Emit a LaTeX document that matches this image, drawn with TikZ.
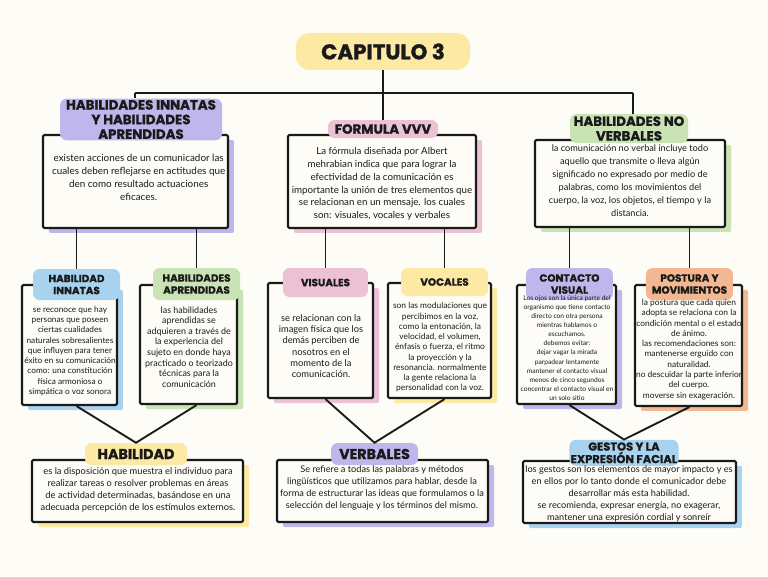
\documentclass[tikz,border=0pt]{standalone}
\usepackage{fontspec}
\usetikzlibrary{positioning,shadows}
\newfontfamily\headfont{Poppins}[BoldFeatures={FakeBold=1.2}]
\newfontfamily\bodyfont{Lato}
\definecolor{ink}{HTML}{1A1A1A}
\definecolor{paper}{HTML}{FDFCF6}
\definecolor{lil}{HTML}{BFB6EC}
\definecolor{pnk}{HTML}{EDC1D4}
\definecolor{grn}{HTML}{C9E3B5}
\definecolor{sky}{HTML}{A8D3EE}
\definecolor{ylw}{HTML}{FCEAA4}
\definecolor{org}{HTML}{F3B891}
\tikzset{
  wire/.style={line width=1.4pt,ink},
  panel/.style={draw=ink,line width=1.6pt,fill=paper,rounded corners=1pt,inner sep=0pt,
    general shadow={fill=#1,shadow xshift=4.5pt,shadow yshift=-3.75pt}},
  tag/.style={fill=#1,rounded corners=5pt,align=center,inner sep=1pt,text=ink,
    font=\headfont\bfseries\fontsize{10}{11}\selectfont},
  tagsm/.style={tag=#1,font=\headfont\bfseries\fontsize{7.8}{9}\selectfont},
  txt/.style 2 args={align=center,text=ink,inner sep=0pt,font=\bodyfont\fontsize{#1}{#2}\selectfont},
}

\begin{document}
\begin{tikzpicture}[x=1pt,y=-1pt]
\useasboundingbox[fill=paper] (0,0) rectangle (576,432);
% title
\node[tag=ylw,rounded corners=10pt,minimum width=130.5pt,minimum height=27.75pt,font=\headfont\bfseries\fontsize{16}{18}\selectfont] (cap) at (287.25,38.6) {CAPITULO 3};
\coordinate (jl) at (101.25,69.75);
\coordinate (jr) at (474.75,69.75);
% top panels
\node[panel=lil,minimum width=138.75pt,minimum height=69.75pt] (t1) at (101.6,136.1) {};
\node[panel=pnk,minimum width=141pt,minimum height=69.75pt] (t2) at (286.5,136.1) {};
\node[panel=grn,minimum width=142.5pt,minimum height=65.25pt] (t3) at (472.5,137.6) {};
\node[tag=lil,minimum width=121.5pt] (t1lbl) at (105.75,89.6) {HABILIDADES INNATAS\\Y HABILIDADES\\APRENDIDAS};
\node[tag=pnk,minimum width=82.5pt,minimum height=13.5pt] (t2lbl) at (287.25,96.75) {FORMULA VVV};
\node[tag=grn,minimum width=88.5pt,minimum height=21.75pt] (t3lbl) at (471.75,96.4) {HABILIDADES NO\\VERBALES};
\node[txt={7.4}{9.7}] (t1txt) at (104,133) {existen acciones de un comunicador las\\cuales deben reflejarse en actitudes que\\den como resultado actuaciones\\eficaces.};
\node[txt={7.3}{9.6}] (t2txt) at (286.5,138) {La fórmula diseñada por Albert\\mehrabian indica que para lograr la\\efectividad de la comunicación es\\importante la unión de tres elementos que\\se relacionan en un mensaje. los cuales\\son: visuales, vocales y verbales};
\node[txt={6.9}{9.75}] (t3txt) at (472.5,135.4) {la comunicación no verbal incluye todo\\aquello que transmite o lleva algún\\significado no expresado por medio de\\palabras, como los movimientos del\\cuerpo, la voz, los objetos, el tiempo y la\\distancia.};
% middle panels
\node[panel=sky,minimum width=71.25pt,minimum height=90pt] (m1) at (52.1,258.75) {};
\node[panel=grn,minimum width=72.75pt,minimum height=89.25pt] (m2) at (141.4,258.4) {};
\node[panel=pnk,minimum width=78.75pt,minimum height=86.25pt] (m3) at (240.4,255.4) {};
\node[panel=ylw,minimum width=77.25pt,minimum height=86.25pt] (m4) at (329.6,255.4) {};
\node[panel=lil,minimum width=74.25pt,minimum height=89.25pt] (m5) at (424.9,258.4) {};
\node[panel=org,minimum width=80.25pt,minimum height=90.75pt] (m6) at (516.4,259.1) {};
\node[tagsm=sky,minimum width=65.25pt,minimum height=23.25pt] (m1lbl) at (57.4,213.4) {HABILIDAD\\INNATAS};
\node[tagsm=grn,minimum width=65.25pt,minimum height=24pt] (m2lbl) at (147.4,213) {HABILIDADES\\APRENDIDAS};
\node[tagsm=pnk,minimum width=63.75pt,minimum height=21.75pt] (m3lbl) at (244.1,211.9) {VISUALES};
\node[tagsm=ylw,minimum width=65.25pt,minimum height=21pt] (m4lbl) at (333.4,211.5) {VOCALES};
\node[tagsm=lil,minimum width=65.25pt,minimum height=24pt] (m5lbl) at (427.1,213) {CONTACTO\\VISUAL};
\node[tagsm=org,minimum width=65.25pt,minimum height=24pt] (m6lbl) at (517.1,213) {POSTURA Y\\MOVIMIENTOS};
\node[txt={6.2}{7.7}] (m1txt) at (52.5,263.25) {se reconoce que hay\\personas que poseen\\ciertas cualidades\\naturales sobresalientes\\que influyen para tener\\éxito en su comunicación\\como: una constitución\\física armoniosa o\\simpática o voz sonora};
\node[txt={6.7}{7.9}] (m2txt) at (141.75,260.25) {las habilidades\\aprendidas se\\adquieren a través de\\la experiencia del\\sujeto en donde haya\\practicado o teorizado\\técnicas para la\\comunicación};
\node[txt={7}{8.5}] (m3txt) at (240.75,259.5) {se relacionan con la\\imagen física que los\\demás perciben de\\nosotros en el\\momento de la\\comunicación.};
\node[txt={6.3}{7.7}] (m4txt) at (330,260.6) {son las modulaciones que\\percibimos en la voz,\\como la entonación, la\\velocidad, el volumen,\\énfasis o fuerza, el ritmo\\la proyección y la\\resonancia. normalmente\\la gente relaciona la\\personalidad con la voz.};
\node[txt={5}{6.8}] (m5txt) at (425.25,261) {Los ojos son la única parte del\\organismo que tiene contacto\\directo con otra persona\\mientras hablamos o\\escuchamos.\\debemos evitar:\\dejar vagar la mirada\\parpadear lentamente\\mantener el contacto visual\\menos de cinco segundos\\concentrar el contacto visual en\\un solo sitio};
\node[txt={6.3}{7.7}] (m6txt) at (516.75,262.1) {la postura que cada quien\\adopta se relaciona con la\\condición mental o el estado\\de ánimo.\\las recomendaciones son:\\mantenerse erguido con\\naturalidad.\\no descuidar la parte inferior\\del cuerpo.\\moverse sin exageración.};
% bottom panels
\node[panel=ylw,minimum width=158.25pt,minimum height=46.5pt] (b1) at (103.1,368.25) {};
\node[panel=lil,minimum width=158.25pt,minimum height=46.5pt] (b2) at (286.9,368.25) {};
\node[panel=sky,minimum width=159.75pt,minimum height=46.5pt] (b3) at (472.1,369) {};
\node[tag=ylw,minimum width=76.5pt,minimum height=16.5pt,font=\headfont\bfseries\fontsize{10.7}{12}\selectfont] (b1lbl) at (102,340.5) {HABILIDAD};
\node[tag=lil,minimum width=65.25pt,minimum height=16.5pt,font=\headfont\bfseries\fontsize{10.7}{12}\selectfont] (b2lbl) at (280.9,340.5) {VERBALES};
\node[tag=sky,minimum width=76.5pt,minimum height=19.5pt,font=\headfont\bfseries\fontsize{8.6}{9.4}\selectfont] (b3lbl) at (468,339.6) {GESTOS Y LA\\EXPRESIÓN FACIAL};
\node[txt={7}{9}] (b1txt) at (103.5,367.5) {es la disposición que muestra el individuo para\\realizar tareas o resolver problemas en áreas\\de actividad determinadas, basándose en una\\adecuada percepción de los estímulos externos.};
\node[txt={6.9}{9}] (b2txt) at (286.5,366) {Se refiere a todas las palabras y métodos\\lingüísticos que utilizamos para hablar, desde la\\forma de estructurar las ideas que formulamos o la\\selección del lenguaje y los términos del mismo.};
\node[txt={6.9}{9}] (b3txt) at (471.75,370.5) {los gestos son los elementos de mayor impacto y es\\en ellos por lo tanto donde el comunicador debe\\desarrollar más esta habilidad.\\se recomienda, expresar energía, no exagerar,\\mantener una expresión cordial y sonreír};
% connectors
\draw[wire] (cap.south) -- (t2lbl.north);
\draw[wire] (jl) -- (jr);
\draw[wire] (jl) -- (jl |- t1lbl.north);
\draw[wire] (jr) -- (jr |- t3lbl.north);
\draw[wire] (t1.south -| m1lbl.north) -- (m1lbl.north);
\draw[wire] (t1.south -| m2lbl.north) -- (m2lbl.north);
\draw[wire] (t2.south -| m3lbl.north) -- (m3lbl.north);
\draw[wire] (t2.south -| m4lbl.north) -- (m4lbl.north);
\draw[wire] (t3.south -| m5lbl.north) -- (m5lbl.north);
\draw[wire] (t3.south -| m6lbl.north) -- (m6lbl.north);
\draw[wire] (m1lbl.north |- m1.south) -- (b1lbl.north) -- (m2lbl.north |- m2.south);
\draw[wire] (m3lbl.north |- m3.south) -- (b2lbl.north) -- (m4lbl.north |- m4.south);
\draw[wire] (m5lbl.north |- m5.south) -- (b3lbl.north) -- (m6lbl.north |- m6.south);
\end{tikzpicture}
\end{document}
